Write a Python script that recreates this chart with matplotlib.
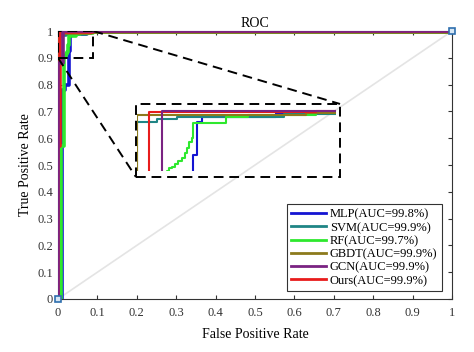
import matplotlib
matplotlib.use("Agg")
import matplotlib.pyplot as plt
from matplotlib.patches import Rectangle

plt.rcParams['font.family'] = ['Liberation Serif', 'DejaVu Serif']

# ROC points (fpr, tpr)
names = ["MLP(AUC=99.8%)", "SVM(AUC=99.9%)", "RF(AUC=99.7%)",
         "GBDT(AUC=99.9%)", "GCN(AUC=99.9%)", "Ours(AUC=99.9%)"]
colors = ["#1414d2", "#1f8585", "#2ee82e", "#8c7a1c", "#7a2382", "#e81c1c"]

mlp_fpr = [0, 0.010, 0.018, 0.028, 0.030, 0.0327, 0.070, 1.0]
mlp_tpr = [0, 0.78, 0.80, 0.927, 0.982, 0.990, 0.996, 1.0]

svm_fpr = [0, 0.0099, 0.020, 0.074, 1.0]
svm_tpr = [0.982, 0.986, 0.9895, 0.995, 1.0]

rf_fpr = [0, 0.008, 0.0149, 0.0162, 0.0176, 0.0191, 0.0208, 0.0225, 0.0241,
          0.0253, 0.0263, 0.0275, 0.028, 0.0447, 0.0558, 0.090, 1.0]
rf_tpr = [0, 0.57, 0.90, 0.9045, 0.907, 0.911, 0.916, 0.921, 0.9295,
          0.938, 0.949, 0.9545, 0.9805, 0.9905, 0.993, 0.996, 1.0]

gbdt_fpr = [0, 0.085, 1.0]
gbdt_tpr = [0.9933, 0.997, 1.0]

gcn_fpr = [0, 0.0126, 1.0]
gcn_tpr = [0.88, 1.0, 1.0]

ours_fpr = [0, 0.006, 0.090, 1.0]
ours_tpr = [0.57, 0.998, 1.0, 1.0]

curves = [(mlp_fpr, mlp_tpr), (svm_fpr, svm_tpr), (rf_fpr, rf_tpr),
          (gbdt_fpr, gbdt_tpr), (gcn_fpr, gcn_tpr), (ours_fpr, ours_tpr)]
zorders = [3, 3, 3, 3, 5, 4]

fig = plt.figure(figsize=(4.74, 3.52), dpi=100)
ax = fig.add_axes([0.1224, 0.1506, 0.831, 0.761])

# chance line
ax.plot([0, 1], [0, 1], color="#e4e4e4", lw=1.2, zorder=1)

handles = []
for (fx, ty), c, n, z in zip(curves, colors, names, zorders):
    # every curve starts at (0,0)
    xs = [0] + list(fx)
    ys = [0] + list(ty)
    h, = ax.plot(xs, ys, drawstyle="steps-post", color=c, lw=2.6, label=n,
                 zorder=z)
    handles.append(h)

ax.plot([0, 1], [0, 1], linestyle="none", marker="s", markersize=5,
        markerfacecolor="#d6e6f4", markeredgecolor="#2f6fae",
        markeredgewidth=1.2, zorder=6, clip_on=False)

ax.set_xlim(0, 1)
ax.set_ylim(0, 1)
ax.set_xticks([0, 0.1, 0.2, 0.3, 0.4, 0.5, 0.6, 0.7, 0.8, 0.9, 1])
ax.set_yticks([0, 0.1, 0.2, 0.3, 0.4, 0.5, 0.6, 0.7, 0.8, 0.9, 1])
ax.set_xticklabels(["0", "0.1", "0.2", "0.3", "0.4", "0.5", "0.6", "0.7", "0.8", "0.9", "1"])
ax.set_yticklabels(["0", "0.1", "0.2", "0.3", "0.4", "0.5", "0.6", "0.7", "0.8", "0.9", "1"])
ax.tick_params(direction="in", top=True, right=True, labelsize=9,
               length=3, color="#333333", labelcolor="#333333")
ax.tick_params(axis="x", pad=6)
for s in ax.spines.values():
    s.set_color("#333333")
    s.set_linewidth(0.8)
ax.set_title("ROC", fontsize=10, pad=3)
ax.set_xlabel("False Positive Rate", fontsize=10, labelpad=6)
ax.set_ylabel("True Positive Rate", fontsize=10, labelpad=4)

# zoom box and connectors
ax.add_patch(Rectangle((0, 0.9), 0.09, 0.1, fill=False, ls=(0, (5, 3)),
                       lw=1.4, color="black", zorder=7))
ax.add_patch(Rectangle((0.198, 0.455), 0.518, 0.273, fill=False,
                       ls=(0, (5, 3)), lw=1.4, color="black", zorder=7))
ax.plot([0.09, 0.716], [1.0, 0.728], color="black", lw=1.4,
        ls=(0, (5, 3)), zorder=7)
ax.plot([0.0, 0.198], [0.9, 0.455], color="black", lw=1.4,
        ls=(0, (5, 3)), zorder=7)

ax.legend(handles=handles, loc="upper left", bbox_to_anchor=(0.581, 0.354),
          fontsize=9, frameon=True, fancybox=False, edgecolor="black",
          handlelength=2.8, handletextpad=0.3, labelspacing=0.1,
          borderpad=0.35, borderaxespad=0)
leg = ax.get_legend()
leg.get_frame().set_linewidth(0.8)
for line in leg.get_lines():
    line.set_linewidth(2)

# inset
ins = fig.add_axes([137 / 474, 1 - 171 / 352, 199 / 474, 63 / 352])
for (fx, ty), c, z in zip(curves, colors, zorders):
    xs = [0] + list(fx)
    ys = [0] + list(ty)
    ins.plot(xs, ys, drawstyle="steps-post", color=c, lw=1.5, zorder=z)
ins.set_xlim(0, 0.1)
ins.set_ylim(0.9, 1.005)
ins.axis("off")

fig.savefig("out.png", dpi=100)
